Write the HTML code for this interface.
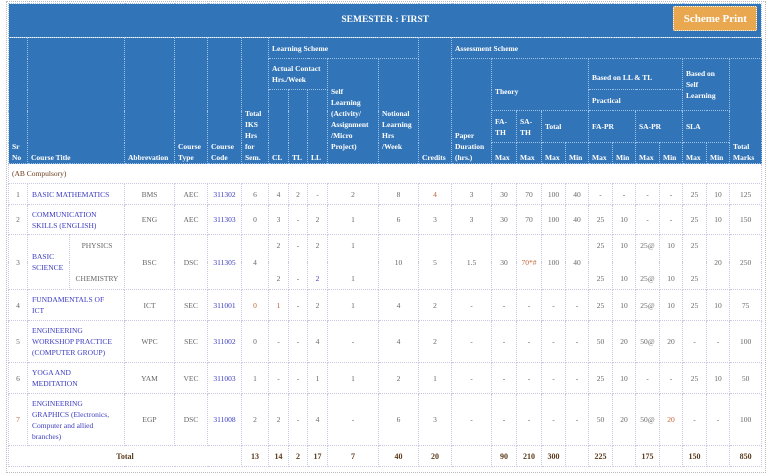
<!DOCTYPE html>
<html><head><meta charset="utf-8"><style>
html,body{margin:0;padding:0;background:#fff;width:768px;height:465px;overflow:hidden}
.frame{position:absolute;left:6px;top:1px;width:758px;height:470px;border:1px dotted #bbb}
table{position:absolute;left:8px;top:3px;border-collapse:collapse;table-layout:fixed;width:753px;font-family:"Liberation Serif",serif;font-size:7.5px}
th{background:#3274b8;color:#fff;font-weight:bold;border:1px dotted #9cc0e6;text-align:left;padding:0 3px;line-height:11px;vertical-align:bottom}
td{border:1px dotted #c9c9e6;color:#666;text-align:center;padding:0 2px;line-height:11px;vertical-align:middle}
td.l{text-align:left;color:#3a3ac0;padding-left:4px}
td.c{color:#3a3ac0}
td.o{color:#c06030}
.tot td{font-weight:bold;color:#5a3a1a;font-size:8px}
.title{text-align:center;vertical-align:middle;font-size:9.5px;position:relative;height:33px;padding:0}
.btn{position:absolute;right:4px;top:2px;width:84px;height:25px;background:#e9a750;border:1px dotted #fff;border-radius:2px;color:#fff;font-size:11px;line-height:25px;text-align:center;box-sizing:border-box}
th.t{vertical-align:top;padding-top:4px}
th.m{vertical-align:middle}
tr.s1 td.n{border-bottom:none;vertical-align:top;padding-top:5px}
tr.s2 td{border-top:none;vertical-align:bottom;padding-bottom:5px}
</style></head><body>
<div class="frame"></div>
<table>
<colgroup>
<col style="width:19px"><col style="width:42px"><col style="width:55px"><col style="width:50px"><col style="width:33px"><col style="width:34px"><col style="width:27px"><col style="width:20px"><col style="width:19px"><col style="width:20px"><col style="width:51px"><col style="width:40px"><col style="width:33px"><col style="width:40px"><col style="width:25px"><col style="width:25px"><col style="width:24px"><col style="width:23px"><col style="width:24px"><col style="width:23px"><col style="width:24px"><col style="width:23px"><col style="width:24px"><col style="width:23px"><col style="width:32px">
</colgroup>
<tr><th colspan="25" class="title">SEMESTER : FIRST<div class="btn">Scheme Print</div></th></tr>
<tr style="height:21px">
<th rowspan="5">Sr<br>No</th><th rowspan="5" colspan="2">Course Title</th><th rowspan="5">Abbrevation</th><th rowspan="5">Course<br>Type</th><th rowspan="5">Course<br>Code</th><th rowspan="5">Total<br>IKS<br>Hrs<br>for<br>Sem.</th>
<th colspan="5" class="m">Learning Scheme</th><th rowspan="5">Credits</th><th colspan="13" class="m">Assessment Scheme</th></tr>
<tr style="height:31px">
<th colspan="3" class="t">Actual Contact<br>Hrs./Week</th>
<th rowspan="4" style="vertical-align:bottom;padding-bottom:0">Self<br>Learning<br>(Activity/<br>Assignment<br>/Micro<br>Project)<br><br></th>
<th rowspan="4">Notional<br>Learning<br>Hrs<br>/Week<br><br></th>
<th rowspan="4">Paper<br>Duration<br>(hrs.)</th>
<th colspan="4" rowspan="2" class="m" style="padding-top:14px">Theory</th>
<th colspan="4" class="m" style="padding-top:6px">Based on LL &amp; TL</th>
<th colspan="2" rowspan="2" class="m">Based on<br>Self<br>Learning</th>
<th rowspan="4">Total<br>Marks</th></tr>
<tr style="height:21px">
<th rowspan="3">CL</th><th rowspan="3">TL</th><th rowspan="3">LL</th>
<th colspan="4" class="m">Practical</th></tr>
<tr style="height:32px">
<th class="m">FA-<br>TH</th><th class="m">SA-<br>TH</th><th colspan="2" class="m">Total</th><th colspan="2" class="m">FA-PR</th><th colspan="2" class="m">SA-PR</th><th colspan="2" class="m">SLA</th></tr>
<tr style="height:21px"><th>Max</th><th>Max</th><th>Max</th><th>Min</th><th>Max</th><th>Min</th><th>Max</th><th>Min</th><th>Max</th><th>Min</th></tr>
<tr style="height:20px"><td colspan="25" style="text-align:left;color:#6a3a1a;padding-left:3px">(AB Compulsory)</td></tr>
<tr style="height:21px"><td>1</td><td colspan="2" class="l">BASIC MATHEMATICS</td><td>BMS</td><td>AEC</td><td class="c">311302</td><td>6</td><td>4</td><td>2</td><td>-</td><td>2</td><td>8</td><td class="o">4</td><td>3</td><td>30</td><td>70</td><td>100</td><td>40</td><td>-</td><td>-</td><td>-</td><td>-</td><td>25</td><td>10</td><td>125</td></tr>
<tr style="height:30px"><td>2</td><td colspan="2" class="l">COMMUNICATION<br>SKILLS (ENGLISH)</td><td>ENG</td><td>AEC</td><td class="c">311303</td><td>0</td><td>3</td><td>-</td><td>2</td><td>1</td><td>6</td><td>3</td><td>3</td><td>30</td><td>70</td><td>100</td><td>40</td><td>25</td><td>10</td><td>-</td><td>-</td><td>25</td><td>10</td><td>150</td></tr>
<tr class="s1" style="height:27px"><td rowspan="2">3</td><td rowspan="2" class="l">BASIC<br>SCIENCE</td><td class="n">PHYSICS</td><td rowspan="2">BSC</td><td rowspan="2">DSC</td><td rowspan="2" class="c">311305</td><td rowspan="2">4</td><td class="n">2</td><td class="n">-</td><td class="n">2</td><td class="n">1</td><td rowspan="2">10</td><td rowspan="2">5</td><td rowspan="2">1.5</td><td rowspan="2">30</td><td rowspan="2" class="o">70*#</td><td rowspan="2">100</td><td rowspan="2">40</td><td class="n">25</td><td class="n">10</td><td class="n">25@</td><td class="n">10</td><td class="n">25</td><td rowspan="2">20</td><td rowspan="2">250</td></tr>
<tr class="s2" style="height:28px"><td>CHEMISTRY</td><td>2</td><td>-</td><td class="c">2</td><td>1</td><td>25</td><td>10</td><td>25@</td><td>10</td><td>25</td></tr>
<tr style="height:31px"><td>4</td><td colspan="2" class="l">FUNDAMENTALS OF<br>ICT</td><td>ICT</td><td>SEC</td><td class="c">311001</td><td class="o">0</td><td class="o">1</td><td>-</td><td>2</td><td>1</td><td>4</td><td>2</td><td>-</td><td>-</td><td>-</td><td>-</td><td>-</td><td>25</td><td>10</td><td>25@</td><td>10</td><td>25</td><td>10</td><td>75</td></tr>
<tr style="height:42px"><td>5</td><td colspan="2" class="l">ENGINEERING<br>WORKSHOP PRACTICE<br>(COMPUTER GROUP)</td><td>WPC</td><td>SEC</td><td class="c">311002</td><td>0</td><td>-</td><td>-</td><td>4</td><td>-</td><td>4</td><td>2</td><td>-</td><td>-</td><td>-</td><td>-</td><td>-</td><td>50</td><td>20</td><td>50@</td><td>20</td><td>-</td><td>-</td><td>100</td></tr>
<tr style="height:31px"><td>6</td><td colspan="2" class="l">YOGA AND<br>MEDITATION</td><td>YAM</td><td>VEC</td><td class="c">311003</td><td>1</td><td>-</td><td>-</td><td>1</td><td>1</td><td>2</td><td>1</td><td>-</td><td>-</td><td>-</td><td>-</td><td>-</td><td>25</td><td>10</td><td>-</td><td>-</td><td>25</td><td>10</td><td>50</td></tr>
<tr style="height:52px"><td class="o">7</td><td colspan="2" class="l">ENGINEERING<br>GRAPHICS (Electronics,<br>Computer and allied<br>branches)</td><td>EGP</td><td>DSC</td><td class="c">311008</td><td>2</td><td>2</td><td>-</td><td>4</td><td>-</td><td>6</td><td>3</td><td>-</td><td>-</td><td>-</td><td>-</td><td>-</td><td>50</td><td>20</td><td>50@</td><td class="o">20</td><td>-</td><td>-</td><td>100</td></tr>
<tr class="tot" style="height:21px"><td colspan="6">Total</td><td>13</td><td>14</td><td>2</td><td>17</td><td>7</td><td>40</td><td>20</td><td></td><td>90</td><td>210</td><td>300</td><td></td><td>225</td><td></td><td>175</td><td></td><td>150</td><td></td><td>850</td></tr>
</table>
</body></html>
